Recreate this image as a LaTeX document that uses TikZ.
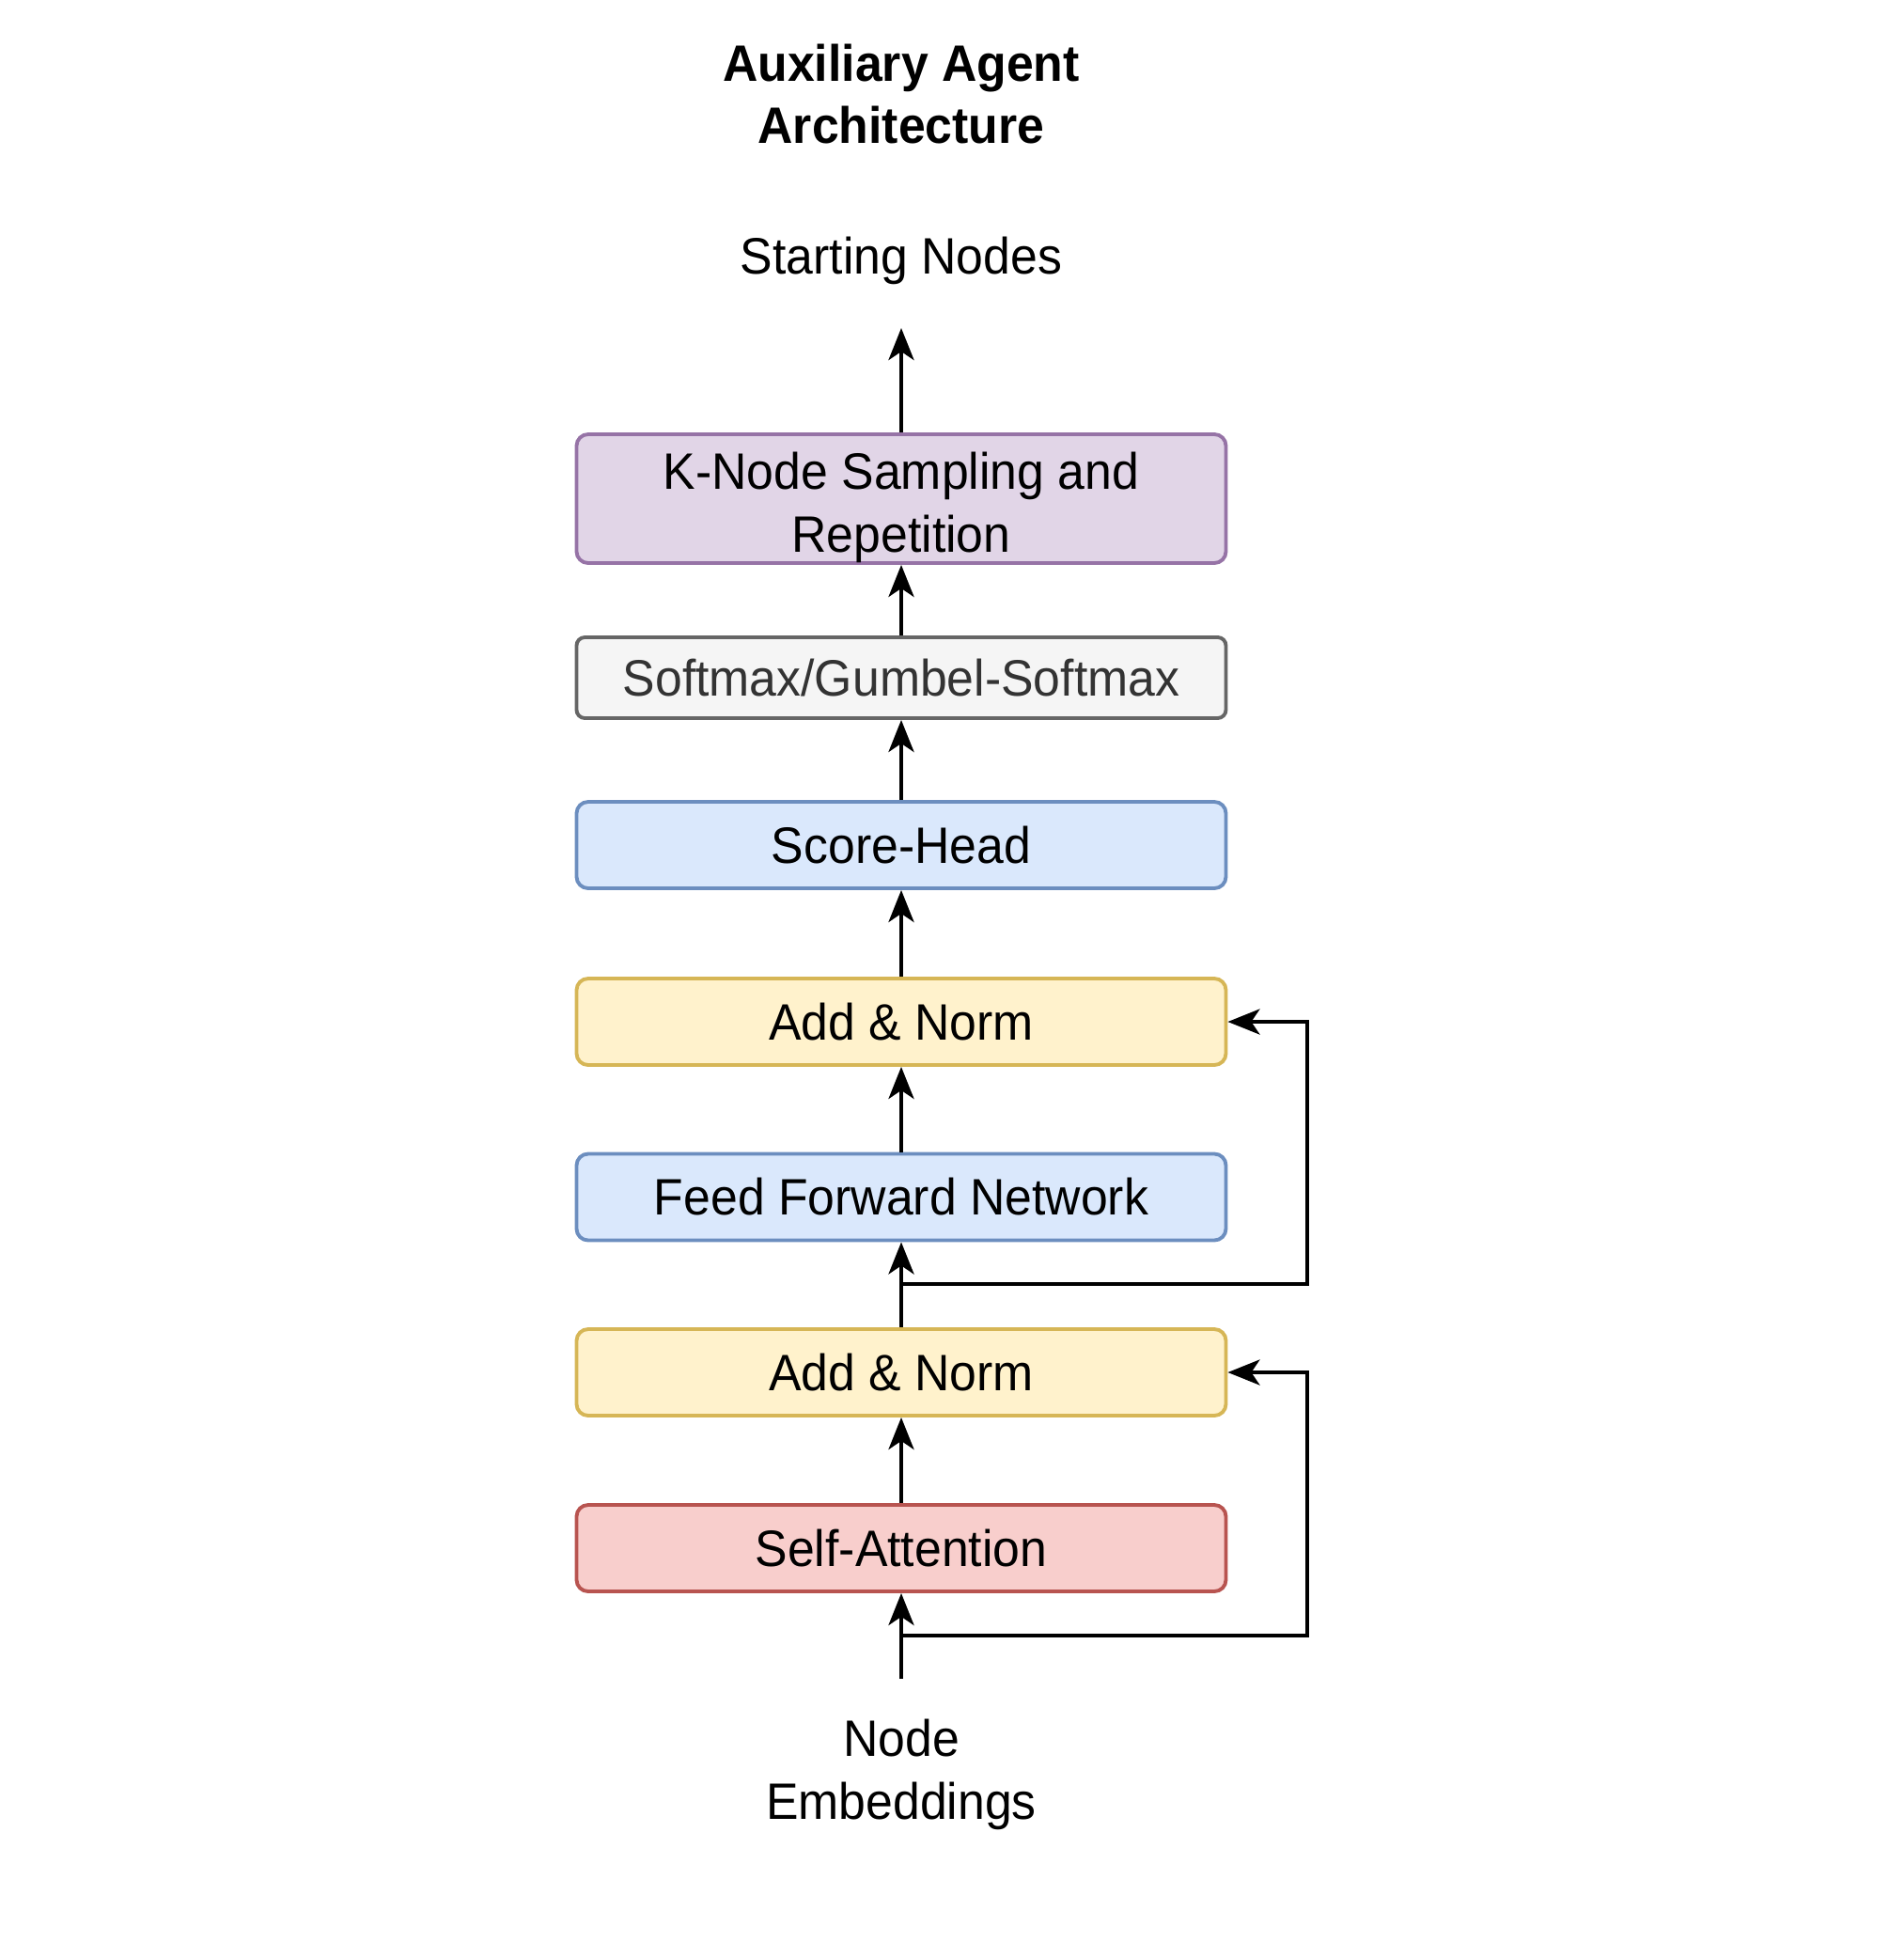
\documentclass[tikz,border=0pt]{standalone}
\usepackage{fontspec}
\setmainfont[FakeStretch=0.95]{Liberation Sans}
\usetikzlibrary{arrows.meta}
\definecolor{purplefill}{HTML}{E1D5E7}
\definecolor{purpleline}{HTML}{9673A6}
\definecolor{grayfill}{HTML}{F5F5F5}
\definecolor{grayline}{HTML}{666666}
\definecolor{graytext}{HTML}{333333}
\definecolor{bluefill}{HTML}{DAE8FC}
\definecolor{blueline}{HTML}{6C8EBF}
\definecolor{yellowfill}{HTML}{FFF2CC}
\definecolor{yellowline}{HTML}{D6B656}
\definecolor{redfill}{HTML}{F8CECC}
\definecolor{redline}{HTML}{B85450}

\begin{document}
\begin{tikzpicture}[
    font=\fontsize{15.5}{19}\selectfont,
    block/.style={draw, line width=1.1pt, rounded corners=3.5pt, minimum width=6.91cm,
      minimum height=0.92cm, align=center, inner sep=0pt},
    arr/.style={line width=1.2pt, -{Stealth[length=3.4mm, width=2.7mm, inset=0.9mm]}},
  ]
    \useasboundingbox (0,0) rectangle (20.25,-20.66);
    \node [align=center, font=\fontsize{15.5}{19}\selectfont\bfseries] (title) at (9.59,-1.0)
      {Auxiliary Agent\\Architecture};
    \node (start) at (9.59,-2.77) {Starting Nodes};
    \coordinate (out) at (9.59,-3.49);
    \node [block, fill=purplefill, draw=purpleline, minimum height=1.37cm] (knode) at (9.59,-5.305)
      {\rule{0pt}{0.58cm}K-Node Sampling and\\Repetition};
    \node [block, fill=grayfill, draw=grayline, text=graytext, minimum height=0.86cm, rounded corners=2.5pt]
      (soft) at (9.59,-7.21) {Softmax/Gumbel-Softmax};
    \node [block, fill=bluefill, draw=blueline] (score) at (9.59,-8.99) {Score-Head};
    \node [block, fill=yellowfill, draw=yellowline] (addA) at (9.59,-10.87) {Add \& Norm};
    \node [block, fill=bluefill, draw=blueline] (ffn) at (9.59,-12.735) {Feed Forward Network};
    \node [block, fill=yellowfill, draw=yellowline] (addB) at (9.59,-14.60) {Add \& Norm};
    \node [block, fill=redfill, draw=redline] (attn) at (9.59,-16.47) {Self-Attention};
    \node [align=center] (emb) at (9.59,-18.88) {Node\\Embeddings};
    \coordinate (in) at (9.59,-17.86);
    \coordinate (skipB) at (9.59,-17.40);
    \coordinate (skipA) at (9.59,-13.66);

    \draw [arr] (in) -- (attn.south);
    \draw [arr] (attn.north) -- (addB.south);
    \draw [arr] (addB.north) -- (ffn.south);
    \draw [arr] (ffn.north) -- (addA.south);
    \draw [arr] (addA.north) -- (score.south);
    \draw [arr] (score.north) -- (soft.south);
    \draw [arr] (soft.north) -- (knode.south);
    \draw [arr] (knode.north) -- (out);
    \draw [arr] (skipB) -- ++(4.32,0) |- (addB.east);
    \draw [arr] (skipA) -- ++(4.32,0) |- (addA.east);
  \end{tikzpicture}
\end{document}
